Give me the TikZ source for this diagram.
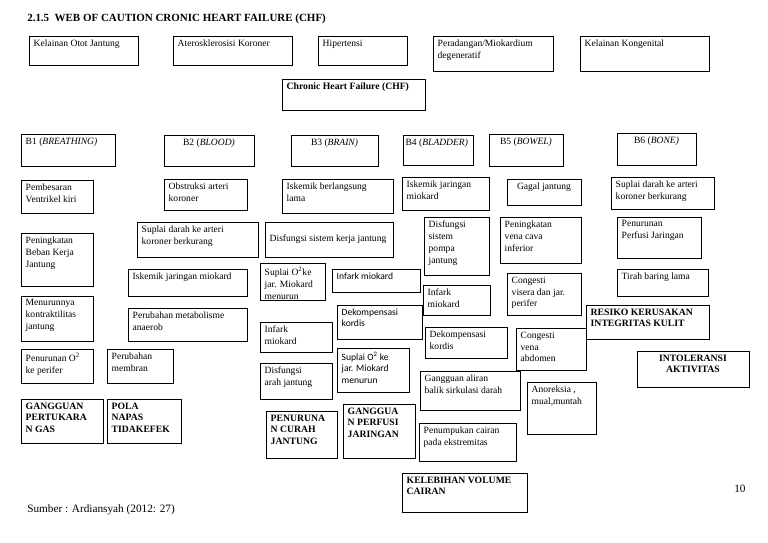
\documentclass[tikz,border=0pt]{standalone}
\usepackage{fontspec}
\setmainfont{Liberation Serif}
\newfontfamily\sansf{Carlito}
\usepackage{tikz}
\usetikzlibrary{positioning,fit}
\tikzset{
  cbox/.style={draw, line width=0.7pt, inner sep=0pt},
  txt/.style={inner xsep=3.5pt, inner ysep=2.8pt, align=left, font=\fontsize{6.8}{8.5}\selectfont},
  txtb/.style={txt, font=\fontsize{6.9}{8.4}\selectfont\bfseries},
  txts/.style={txt, font=\fontsize{6.8}{8.2}\selectfont\sansf},
  tl/.style={label={[txt, anchor=north west]north west:{#1}}},
  tlb/.style={label={[txtb, anchor=north west]north west:{#1}}},
  tls/.style={label={[txts, anchor=north west]north west:{#1}}},
  tc/.style={label={[txt, align=center, anchor=north]north:{#1}}},
  tcb/.style={label={[txtb, align=center, anchor=north]north:{#1}}},
  tw/.style={label={[txt, anchor=west]west:{#1}}},
}

\begin{document}
\begin{tikzpicture}[x=0.025cm, y=-0.025cm]
\useasboundingbox (0,0) rectangle (768,543);
\node[anchor=west, inner sep=0pt, font=\fontsize{7.8}{9}\selectfont\bfseries] (judul) at (27,19) {2.1.5\ \ WEB OF CAUTION CRONIC HEART FAILURE (CHF)};

% etiologi
\node[cbox, fit={(29,36) (138,65)}, tl={Kelainan Otot Jantung}] (otot) {};
\node[cbox, fit={(173,36) (292,65)}, tl={Aterosklerosisi Koroner}] (ater) {};
\node[cbox, fit={(318,36) (407,65)}, tl={Hipertensi}] (hiper) {};
\node[cbox, fit={(433,36) (553,71)}, tl={Peradangan/Miokardium\\degeneratif}] (radang) {};
\node[cbox, fit={(580,36) (709,71)}, tl={Kelainan Kongenital}] (kongen) {};
\node[cbox, fit={(282,79) (425,110)}, tlb={Chronic Heart Failure (CHF)}] (chf) {};

% B1 - B6
\node[cbox, fit={(21,134) (115,166)}, tl={B1 (\textit{BREATHING)}}] (bI) {};
\node[cbox, fit={(164,135) (254,166)}, tc={B2 (\textit{BLOOD)}}] (bII) {};
\node[cbox, fit={(291,135) (378,166)}, tc={B3 (\textit{BRAIN)}}] (bIII) {};
\node[cbox, fit={(403,135) (473,165)}, label={[txt, inner xsep=2pt, anchor=north west]north west:{B4 (\textit{BLADDER)}}}] (bIV) {};
\node[cbox, fit={(489,134) (563,166)}, tc={B5 (\textit{BOWEL)}}] (bV) {};
\node[cbox, fit={(617,133) (696,165)}, tc={B6 (\textit{BONE)}}] (bVI) {};

% breathing
\node[cbox, fit={(21,180) (93,213)}, tl={Pembesaran\\Ventrikel kiri}] (besar) {};
\node[cbox, fit={(21,233) (93,286)}, tl={Peningkatan\\Beban Kerja\\Jantung}] (beban) {};
\node[cbox, fit={(21,296) (93,341)}, tl={Menurunnya\\kontraktilitas\\jantung}] (kontrak) {};
\node[cbox, fit={(21,349) (93,383)}, tl={Penurunan O\textsuperscript{2}\\ke perifer}] (turunO) {};
\node[cbox, fit={(107,349) (173,383)}, tl={Perubahan\\membran}] (membran) {};
\node[cbox, fit={(21,399) (103,443)}, tlb={GANGGUAN\\PERTUKARA\\N GAS}] (gangGas) {};
\node[cbox, fit={(107,399) (181,443)}, tlb={POLA\\NAPAS\\TIDAKEFEK}] (polaNapas) {};

% blood
\node[cbox, fit={(164,179) (247,210)}, tl={Obstruksi arteri\\koroner}] (obstruksi) {};
\node[cbox, fit={(137,222) (258,257)}, tl={Suplai darah ke arteri\\koroner berkurang}] (suplaiA) {};
\node[cbox, fit={(128,269) (247,296)}, tl={Iskemik jaringan miokard}] (iskemikA) {};
\node[cbox, fit={(128,308) (247,341)}, tl={Perubahan metabolisme\\anaerob}] (anaerob) {};

% brain
\node[cbox, fit={(282,179) (393,213)}, tl={Iskemik berlangsung\\lama}] (iskLama) {};
\node[cbox, fit={(265,222) (393,257)}, tw={Disfungsi sistem kerja jantung}] (disKerja) {};
\node[cbox, fit={(260,263) (325,300)}, tl={Suplai O\textsuperscript{2}ke\\jar. Miokard\\menurun}] (suplaiO) {};
\node[cbox, fit={(332,269) (420,292)}, tls={Infark miokard}] (infarkS) {};
\node[cbox, fit={(337,305) (422,339)}, tls={Dekompensasi\\kordis}] (dekomS) {};
\node[cbox, fit={(260,322) (332,352)}, tl={Infark\\miokard}] (infarkA) {};
\node[cbox, fit={(260,363) (332,399)}, tl={Disfungsi\\arah jantung}] (disArah) {};
\node[cbox, fit={(337,348) (409,392)}, tls={Suplai O\textsuperscript{2} ke\\jar. Miokard\\menurun}] (suplaiOS) {};
\node[cbox, fit={(266,411) (337,458)}, tlb={PENURUNA\\N CURAH\\JANTUNG}] (curah) {};
\node[cbox, fit={(343,404) (415,458)}, tlb={GANGGUA\\N PERFUSI\\JARINGAN}] (perfusi) {};

% bladder
\node[cbox, fit={(402,177) (489,210)}, tl={Iskemik jaringan\\miokard}] (iskemikB) {};
\node[cbox, fit={(424,217) (489,275)}, tl={Disfungsi\\sistem\\pompa\\jantung}] (pompa) {};
\node[cbox, fit={(423,285) (490,315)}, tl={Infark\\miokard}] (infarkB) {};
\node[cbox, fit={(425,327) (507,358)}, tl={Dekompensasi\\kordis}] (dekomB) {};
\node[cbox, fit={(420,371) (520,410)}, tl={Gangguan aliran\\balik sirkulasi darah}] (aliran) {};
\node[cbox, fit={(419,423) (516,461)}, tl={Penumpukan cairan\\pada ekstremitas}] (tumpuk) {};
\node[cbox, fit={(402,473) (527,512)}, tlb={KELEBIHAN VOLUME\\CAIRAN}] (volume) {};

% bowel
\node[cbox, fit={(507,179) (581,205)}, tc={Gagal jantung}] (gagal) {};
\node[cbox, fit={(500,217) (581,263)}, tl={Peningkatan\\vena cava\\inferior}] (cava) {};
\node[cbox, fit={(507,273) (581,315)}, tl={Congesti\\visera dan jar.\\perifer}] (visera) {};
\node[cbox, fit={(516,328) (586,370)}, tl={Congesti\\vena\\abdomen}] (abdomen) {};
\node[cbox, fit={(527,382) (596,434)}, tl={Anoreksia ,\\mual,muntah}] (anoreksia) {};

% bone
\node[cbox, fit={(611,177) (714,209)}, tl={Suplai darah ke arteri\\koroner berkurang}] (suplaiB) {};
\node[cbox, fit={(617,217) (701,258)}, tl={Penurunan\\Perfusi Jaringan}] (turunPerf) {};
\node[cbox, fit={(617,269) (708,296)}, tl={Tirah baring lama}] (tirah) {};
\node[cbox, fit={(586,305) (709,339)}, tlb={RESIKO KERUSAKAN\\INTEGRITAS KULIT}] (kulit) {};
\node[cbox, fit={(637,351) (749,387)}, tcb={INTOLERANSI\\AKTIVITAS}] (intoleran) {};

\node[anchor=west, inner sep=0pt, font=\fontsize{8}{9}\selectfont] (sumber) at (27,510) {Sumber : Ardiansyah (2012: 27)};
\node[anchor=west, inner sep=0pt, font=\fontsize{8}{9}\selectfont] (hal) at (734,489) {10};
\end{tikzpicture}
\end{document}
